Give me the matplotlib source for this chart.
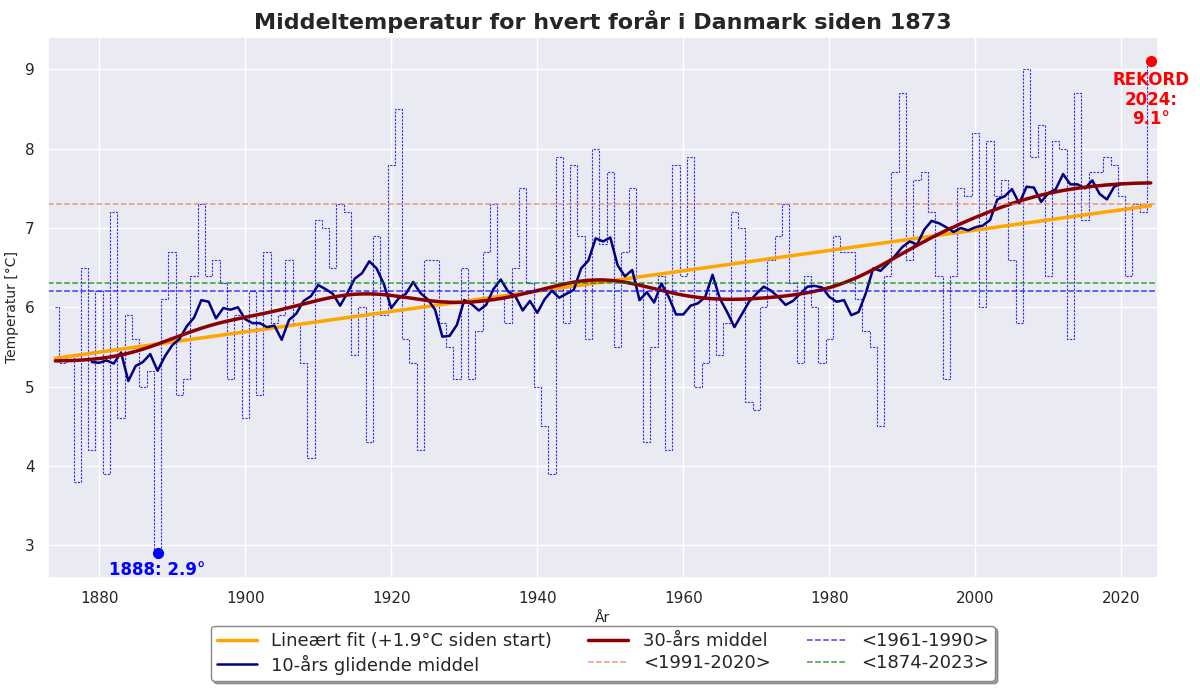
import numpy as np
import pandas as pd
import seaborn as sns
from matplotlib import pyplot as plt

years = list(range(1874, 2025))
temps = [
    6.0, 5.3, 5.4, 3.8, 6.5, 4.2, 6.2, 3.9, 7.2, 4.6,   # 1874-1883
    5.9, 5.6, 5.0, 5.2, 2.9, 6.1, 6.7, 4.9, 5.1, 6.4,   # 1884-1893
    7.3, 6.4, 6.6, 6.3, 5.1, 5.9, 4.6, 6.2, 4.9, 6.7,   # 1894-1903
    5.8, 5.9, 6.6, 5.8, 5.3, 4.1, 7.1, 7.0, 6.5, 7.3,   # 1904-1913
    7.2, 5.4, 6.0, 4.3, 6.9, 5.9, 7.8, 8.5, 5.6, 5.3,   # 1914-1923
    4.2, 6.6, 6.6, 5.8, 5.5, 5.1, 6.5, 5.1, 5.7, 6.7,   # 1924-1933
    7.3, 6.1, 5.8, 6.5, 7.5, 6.3, 5.0, 4.5, 3.9, 7.9,   # 1934-1943
    5.8, 7.8, 6.9, 5.6, 8.0, 6.8, 7.7, 5.5, 6.7, 7.5,   # 1944-1953
    6.3, 4.3, 5.5, 6.4, 4.2, 7.8, 6.4, 7.9, 5.0, 5.3,   # 1954-1963
    6.3, 5.4, 5.8, 7.2, 7.0, 4.8, 4.7, 6.0, 6.6, 6.9,   # 1964-1973
    7.3, 6.3, 5.3, 6.4, 6.0, 5.3, 5.6, 6.9, 6.7, 6.7,   # 1974-1983
    6.1, 5.7, 5.5, 4.5, 6.4, 7.7, 8.7, 6.6, 7.6, 7.7,   # 1984-1993
    7.2, 6.4, 5.1, 6.4, 7.5, 7.4, 8.2, 6.0, 8.1, 7.4,   # 1994-2003
    7.6, 6.6, 5.8, 9.0, 7.9, 8.3, 6.4, 8.1, 8.0, 5.6,   # 2004-2013
    8.7, 7.1, 7.7, 7.7, 7.9, 7.8, 7.4, 6.4, 7.3, 7.2,   # 2014-2023
    9.1,                                                 # 2024
]
normal_periods = [(1991, 2020), (1961, 1990), (1874, 2023)]
normal_colors = ['#f07850', 'blue', 'green']


def gauss_smooth(y, sigma):
    r = int(4 * sigma + 0.5)
    k = np.exp(-0.5 * (np.arange(-r, r + 1) / sigma) ** 2)
    k /= k.sum()
    yp = np.pad(y, r, mode='symmetric')
    return np.convolve(yp, k, mode='valid')


df = pd.DataFrame({'year': years, 'temp': temps}).set_index('year')
roll10 = df['temp'].rolling(10, center=True).mean()
smooth30 = gauss_smooth(df['temp'].values, 7.5)
coef = np.polyfit(df.index, df['temp'], 1)
fit = np.polyval(coef, df.index)
rise = fit[-1] - fit[0]

sns.set_theme(style='darkgrid')
fig = plt.figure(figsize=(12, 6.96), dpi=100)
ax = fig.add_axes([0.040, 0.170, 0.925, 0.777])

ax.step(df.index, df['temp'], where='mid', color='blue', linestyle=(0, (2, 1.2)), linewidth=0.8, alpha=0.8)
h_fit, = ax.plot(df.index, fit, color='orange', linewidth=2.5,
                 label=f'Lineært fit (+{rise:.1f}°C siden start)')
h_roll, = ax.plot(roll10.index, roll10.values, color='navy', linewidth=1.8,
                  label='10-års glidende middel')
h_30, = ax.plot(df.index, smooth30, color='darkred', linewidth=2.5, label='30-års middel')

handles = []
for (a, b), c in zip(normal_periods, normal_colors):
    m = df.loc[a:b, 'temp'].mean()
    h = ax.axhline(m, color=c, linestyle='--', linewidth=1.1, alpha=0.75, label=f'<{a}-{b}>')
    handles.append(h)

# rekord og minimum
imax = df['temp'].idxmax()
imin = df['temp'].idxmin()
ax.plot(imax, df.loc[imax, 'temp'], 'o', color='red', markersize=7)
ax.annotate(f'REKORD\n{imax}:\n{df.loc[imax, "temp"]:.1f}°', (imax, df.loc[imax, 'temp']),
            xytext=(0, -7), textcoords='offset points', ha='center', va='top',
            color='red', fontsize=12, fontweight='bold', linespacing=1.1)
ax.plot(imin, df.loc[imin, 'temp'], 'o', color='blue', markersize=7)
ax.annotate(f'{imin}: {df.loc[imin, "temp"]:.1f}°', (imin, df.loc[imin, 'temp']),
            xytext=(0, -6), textcoords='offset points', ha='center', va='top',
            color='blue', fontsize=12, fontweight='bold')

ax.set_xlim(1873, 2025)
ax.set_title('Middeltemperatur for hvert forår i Danmark siden 1873', fontsize=16, fontweight='bold')
ax.set_xlabel('År', fontsize=10)
ax.set_ylabel('Temperatur [°C]', fontsize=10)
ax.tick_params(labelsize=11)

leg_handles = [h_fit, h_roll, h_30, handles[0], handles[1], handles[2]]
ax.legend(handles=leg_handles, loc='upper center', bbox_to_anchor=(0.5, -0.072), ncol=3,
          fontsize=13, frameon=True, facecolor='white', edgecolor='#888888', shadow=True,
          handlelength=2.2, columnspacing=2.0, labelspacing=0.25, borderpad=0.35)

fig.savefig('out.png', dpi=100)
